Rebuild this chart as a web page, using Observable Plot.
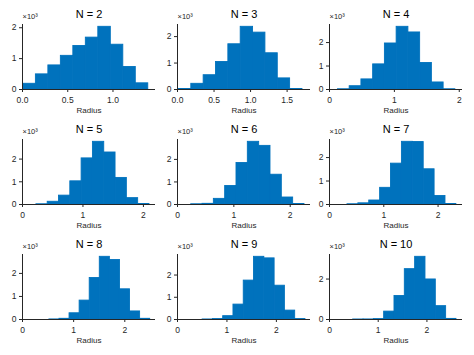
<!DOCTYPE html>
<html><head><meta charset="utf-8">
<script src="https://cdn.jsdelivr.net/npm/d3@7"></script>
<script src="https://cdn.jsdelivr.net/npm/@observablehq/plot@0.6"></script>
<style>
body{margin:0;background:#fff;}
#chart{position:relative;width:474px;height:355px;overflow:hidden;background:#fff;}
#chart svg{position:absolute;overflow:visible;}
</style></head><body><div id="chart"></div>
<script>
// Panel identifiers (number of dimensions N)
const Ns = [2, 3, 4, 5, 6, 7, 8, 9, 10];
// Histogram bin layout: left edge of first bin and bin width (Radius units)
const binStart = [0.01, 0.02, 0.13, 0.23, 0.243, 0.331, 0.526, 0.508, 0.486];
const binWidth = [0.138, 0.169, 0.181, 0.187, 0.201, 0.2006, 0.197, 0.208, 0.212];
// Counts per bin (10 bins each)
const countsN2  = [185, 490, 780, 1090, 1410, 1680, 2030, 1450, 730, 200];
const countsN3  = [20, 215, 540, 1040, 1710, 2370, 2150, 1370, 420, 20];
const countsN4  = [10, 140, 430, 1070, 1960, 2670, 2430, 1130, 300, 10];
const countsN5  = [10, 120, 390, 1020, 2030, 2760, 2290, 1170, 280, 20];
const countsN6  = [10, 30, 250, 820, 1840, 2780, 2600, 1320, 310, 20];
const countsN7  = [10, 50, 170, 710, 1740, 2670, 2660, 1500, 360, 20];
const countsN8  = [3, 30, 270, 820, 1800, 2720, 2580, 1310, 350, 30];
const countsN9  = [2, 20, 150, 670, 1750, 2820, 2750, 1520, 400, 20];
const countsN10 = [1, 3, 20, 390, 1160, 2490, 3100, 1980, 660, 30];
const counts = [countsN2, countsN3, countsN4, countsN5, countsN6, countsN7, countsN8, countsN9, countsN10];
// Axis limits and ticks
const xLimit = [1.47, 1.82, 2.05, 2.2, 2.36, 2.45, 2.6, 2.69, 2.73];
const xTicks = [[0, 0.5, 1], [0, 0.5, 1, 1.5], [0, 1, 2], [0, 1, 2], [0, 1, 2], [0, 1, 2], [0, 1, 2], [0, 1, 2], [0, 1, 2]];
const yTicks = [[0, 1000, 2000], [0, 1000, 2000], [0, 1000, 2000], [0, 1000, 2000], [0, 1000, 2000], [0, 1000, 2000], [0, 1000, 2000], [0, 1000, 2000], [0, 2000]];
const xLabel = "Radius";
const exponentLabel = "×10³";

const chart = document.getElementById("chart");
const FONT = "'Liberation Sans', Arial, Helvetica, sans-serif";
const INK = "#262626";
const BLUE = "#0072bd";

Ns.forEach((n, i) => {
  const row = Math.floor(i / 3), col = i % 3;
  const bins = counts[i].map((c, j) => ({
    x1: binStart[i] + j * binWidth[i],
    x2: binStart[i] + (j + 1) * binWidth[i],
    count: c
  }));
  const yMax = d3.max(counts[i]) * 1.037;
  const fmt = xTicks[i].some(t => t % 1 !== 0) ? d3.format(".1f") : d3.format("d");
  const svg = Plot.plot({
    width: 163, height: 115,
    marginLeft: 22, marginRight: 8, marginTop: 24, marginBottom: 26,
    style: {fontFamily: FONT, fontSize: "8.5px", color: INK, background: "transparent", overflow: "visible"},
    x: {domain: [0, xLimit[i]]},
    y: {domain: [0, yMax]},
    marks: [
      Plot.rect(bins, {x1: "x1", x2: "x2", y1: 0, y2: "count", fill: BLUE, stroke: BLUE, strokeWidth: 0.9}),
      Plot.ruleX([0], {stroke: INK}),
      Plot.ruleY([0], {stroke: INK}),
      Plot.axisX({ticks: xTicks[i], tickFormat: fmt, tickSize: 3, tickPadding: 4.5, label: null}),
      Plot.axisY({ticks: yTicks[i], tickFormat: d => d / 1000, tickSize: 3, tickPadding: 3, label: null}),
      Plot.text([`N = ${n}`], {frameAnchor: "top", lineAnchor: "middle", dy: -10.5, fontSize: 11, fill: "#000"}),
      Plot.text([exponentLabel], {frameAnchor: "top-left", textAnchor: "start", lineAnchor: "middle", dy: -8, fontSize: 7.5, fill: INK}),
      Plot.text([xLabel], {frameAnchor: "bottom", lineAnchor: "middle", dy: 20.5, fontSize: 8, fill: INK})
    ]
  });
  svg.style.left = (col === 0 ? 0 : col === 1 ? 154.7 : 307.3) + "px";
  svg.style.top = (row * 115) + "px";
  chart.appendChild(svg);
});
</script></body></html>
